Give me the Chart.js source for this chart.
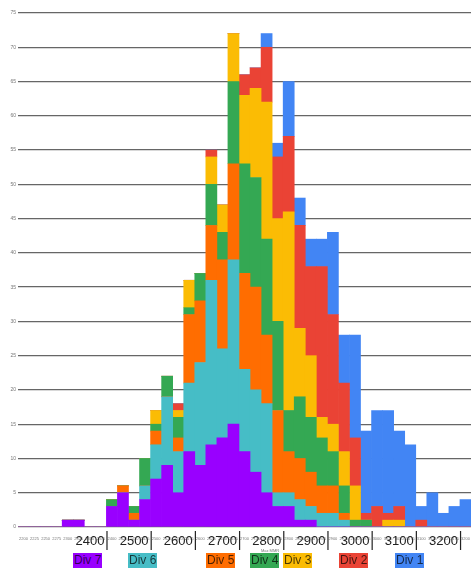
<!DOCTYPE html>
<html><head><meta charset="utf-8">
<script src="https://cdn.jsdelivr.net/npm/chart.js@4"></script>
<style>
html,body{margin:0;padding:0;background:#fff;width:474px;height:573px;overflow:hidden;font-family:"Liberation Sans",Arial,sans-serif}
#wrap{position:relative;width:474px;height:573px}
.lg{position:absolute;top:553px;height:15px;line-height:15px;font-size:12px;color:rgba(0,0,0,0.7);padding:0 1px}
</style></head>
<body><div id="wrap"><canvas id="c" width="474" height="573"></canvas></div>
<script>
const categories=["2200","2225","2250","2275","2300","2325","2350","2375","2400","2425","2450","2475","2500","2525","2550","2575","2600","2625","2650","2675","2700","2725","2750","2775","2800","2825","2850","2875","2900","2925","2950","2975","3000","3025","3050","3075","3100","3125","3150","3175","3200"];
const div7=[0,0,0,0,1,1,0,0,3,5,1,4,7,9,5,11,9,12,13,15,11,8,5,3,3,1,1,0,0,0,0,0,0,0,0,0,0,0,0,0,0];
const div6=[0,0,0,0,0,0,0,0,0,0,0,2,5,10,6,10,15,24,13,24,12,12,13,2,2,3,2,2,2,1,0,0,0,0,0,0,0,0,0,0,0];
const div5=[0,0,0,0,0,0,0,0,0,1,1,0,2,0,2,10,9,8,13,14,14,15,10,12,6,6,5,4,4,1,0,0,0,0,0,0,0,0,0,0,0];
const div4=[0,0,0,0,0,0,0,0,1,0,1,4,1,3,3,1,4,6,4,12,16,16,14,13,6,9,8,7,5,4,1,1,0,0,0,0,0,0,0,0,0];
const div3=[0,0,0,0,0,0,0,0,0,0,0,0,2,0,1,4,0,4,4,7,10,13,20,15,29,10,9,3,4,5,5,0,0,1,1,0,0,0,0,0,0];
const div2=[0,0,0,0,0,0,0,0,0,0,0,0,0,0,1,0,0,1,0,0,3,3,8,9,11,15,13,22,16,10,7,1,3,1,2,0,1,0,0,0,0];
const div1=[0,0,0,0,0,0,0,0,0,0,0,0,0,0,0,0,0,0,0,0,0,0,2,2,8,4,4,4,12,7,15,12,14,15,11,12,2,5,2,3,4];
const bigTicks=["2400","2500","2600","2700","2800","2900","3000","3100","3200"];
const seriesNames=["Div 7","Div 6","Div 5","Div 4","Div 3","Div 2","Div 1"];
const seriesData=[div7,div6,div5,div4,div3,div2,div1];
const colors=["#9900ff","#46bdc6","#ff6d01","#34a853","#fbbc04","#ea4335","#4285f4"];
const legendX=[73,128,206,250,283,339,395];

const bigTickPlugin={id:'bt',afterDraw(ch){
  const c=ch.ctx,x=ch.scales.x;
  const half=(x.getPixelForValue(1)-x.getPixelForValue(0))/2;
  c.save();
  c.font='13px "Liberation Sans", Arial';c.fillStyle='#222';c.textAlign='right';c.textBaseline='middle';
  bigTicks.forEach(t=>{
    const px=x.getPixelForValue(categories.indexOf(t))-half;
    c.fillText(t,px-2,541);
    c.fillRect(px,531,1.2,19);
  });
  c.font='4px "Liberation Sans", Arial';c.fillStyle='#777';c.textAlign='center';
  c.fillText('Max MMR',270,551);
  c.restore();
}};

new Chart(document.getElementById('c'),{
  type:'bar',
  data:{labels:categories,datasets:seriesData.map((d,i)=>({label:seriesNames[i],data:d,backgroundColor:colors[i],borderWidth:0}))},
  options:{
    responsive:false,animation:false,
    layout:{padding:{top:13,right:3,left:0,bottom:0}},
    plugins:{legend:{display:false},tooltip:{enabled:false}},
    datasets:{bar:{barPercentage:1,categoryPercentage:1}},
    scales:{
      x:{stacked:true,grid:{display:false},border:{display:false},
        ticks:{autoSkip:false,maxRotation:0,minRotation:0,padding:1,font:{size:4},color:'#777'},
        afterFit(s){s.height=46;}},
      y:{stacked:true,min:0,max:75,border:{display:false},
        ticks:{stepSize:5,font:{size:5},color:'#777',padding:2},
        grid:{color:'#666',lineWidth:1.3,drawTicks:false},
        afterFit(s){s.width=18;}}
    }
  },
  plugins:[bigTickPlugin]
});
const wrap=document.getElementById('wrap');
seriesNames.forEach((n,i)=>{const d=document.createElement('div');d.className='lg';d.style.left=legendX[i]+'px';d.style.background=colors[i];d.textContent=n;wrap.appendChild(d);});
</script></body></html>
